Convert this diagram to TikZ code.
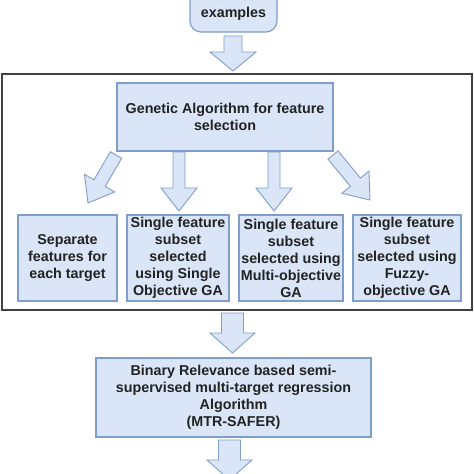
\documentclass[tikz,border=0pt]{standalone}
\usepackage{fontspec}
\setmainfont{Liberation Sans}
\usetikzlibrary{calc}
\definecolor{boxfill}{HTML}{DAE6F7}
\definecolor{boxline}{HTML}{7F9DC9}
\definecolor{txt}{HTML}{222222}
\definecolor{framecol}{HTML}{404040}
\tikzset{
  box/.style={draw=boxline, fill=boxfill, line width=1.1pt, align=center, inner sep=1pt,
    text=txt, font=\fontsize{14.3}{17}\selectfont\bfseries},
  frame/.style={draw=framecol, line width=2pt, inner sep=0pt},
  arr/.style={draw=boxline, fill=boxfill, line width=0.9pt, line join=miter}
}
\newcommand\barrow[5]{%
  \path ($(#2)!#5!(#1)$) coordinate (bh);
  \draw[arr] ($(#1)!#3!90:(#2)$) -- ($(bh)!#3!-90:(#1)$) -- ($(bh)!#4!-90:(#1)$) -- (#2)
    -- ($(bh)!#4!90:(#1)$) -- ($(bh)!#3!90:(#1)$) -- ($(#1)!#3!-90:(#2)$) -- cycle;
}
\begin{document}
\begin{tikzpicture}[x=1pt,y=-1pt]
\useasboundingbox[fill=white] (0,0) rectangle (474,474);
% source
\node[box, rounded corners=11pt, minimum width=87pt, minimum height=53pt] (src) at (233.5,5.5) {labeled\\examples};
% frame
\node[frame, minimum width=470pt, minimum height=236pt] (frame) at (237,192) {};
% GA
\node[box, minimum width=216pt, minimum height=68pt] (ga) at (225,117) {Genetic Algorithm for feature\\selection};
% four options
\node[box, minimum width=99pt, minimum height=86pt] (b1) at (67.5,258) {Separate\\features for\\each target};
\node[box, minimum width=102pt, minimum height=86pt] (b2) at (178,258) {Single feature\\subset\\selected\\using Single\\Objective GA};
\node[box, minimum width=104pt, minimum height=86pt] (b3) at (291,258) {Single feature\\subset\\selected using\\Multi-objective\\GA};
\node[box, minimum width=108pt, minimum height=86pt] (b4) at (407,258) {Single feature\\subset\\selected using\\Fuzzy-\\objective GA};
% MTR
\node[box, minimum width=275pt, minimum height=79pt] (mtr) at (233.5,397.5) {Binary Relevance based semi-\\supervised multi-target regression\\Algorithm\\(MTR-SAFER)};
% arrow coordinates
\coordinate (a0s) at (233,36);  \coordinate (a0e) at (233,71);
\coordinate (a1s) at (116,155); \coordinate (a1e) at (88,203);
\coordinate (a2s) at (179,152); \coordinate (a2e) at (179,211);
\coordinate (a3s) at (274,152); \coordinate (a3e) at (274,211);
\coordinate (a4s) at (333,155); \coordinate (a4e) at (370,200);
\coordinate (a5s) at (232.5,313); \coordinate (a5e) at (232.5,353);
\coordinate (a6s) at (229.5,440); \coordinate (a6e) at (229.5,480);
\barrow{a0s}{a0e}{9pt}{23pt}{19pt}
\barrow{a1s}{a1e}{6.5pt}{17.5pt}{23pt}
\barrow{a2s}{a2e}{6pt}{18pt}{23pt}
\barrow{a3s}{a3e}{6pt}{18pt}{23pt}
\barrow{a4s}{a4e}{6.5pt}{17.5pt}{23pt}
\barrow{a5s}{a5e}{11pt}{22.5pt}{20pt}
\barrow{a6s}{a6e}{11pt}{22.5pt}{20pt}
\end{tikzpicture}
\end{document}
